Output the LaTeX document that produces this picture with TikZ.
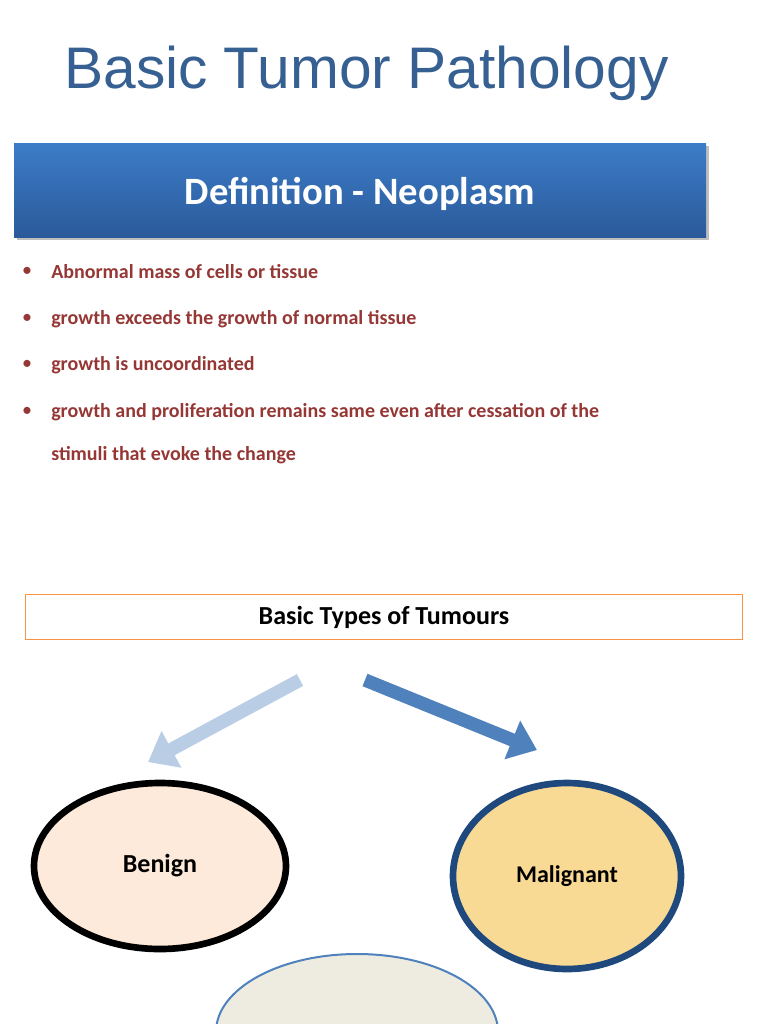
\documentclass[tikz,border=0pt]{standalone}
\usepackage{fontspec}
\setmainfont{Carlito}
\newfontfamily\titlefont{Liberation Sans}
\usetikzlibrary{arrows.meta,shapes.geometric}
\definecolor{titleblue}{HTML}{376092}
\definecolor{bulletred}{HTML}{953735}
\definecolor{hdrtop}{HTML}{3C7CC8}
\definecolor{hdrbot}{HTML}{2B5A9A}
\definecolor{lightarrow}{HTML}{B9CDE5}
\definecolor{darkarrow}{HTML}{4F81BD}
\definecolor{orangeb}{HTML}{F79646}
\definecolor{benignfill}{HTML}{FDEADA}
\definecolor{malfill}{HTML}{F9DA95}
\definecolor{malborder}{HTML}{1F497D}
\definecolor{thirdfill}{HTML}{EEECE1}
\tikzset{
 bul/.style={anchor=west,text=bulletred,font=\fontsize{15}{18}\selectfont\bfseries,inner sep=0},
 dot/.style={anchor=center,text=bulletred,font=\fontsize{15}{18}\selectfont,inner sep=0},
 fatarrow/.style={line width=10pt,-{Triangle[width=30pt,length=20pt]}}
}
\begin{document}
\begin{tikzpicture}[x=0.75pt,y=-0.75pt]
\useasboundingbox (0,0) rectangle (768,1024);
\clip (0,0) rectangle (768,1024);
\node[anchor=west,text=titleblue,font=\titlefont\fontsize{44}{50}\selectfont,inner sep=0] (title) at (64,73) {Basic Tumor Pathology};
\fill[black!25] (17,146) rectangle (709,240);
\shade[top color=hdrtop,bottom color=hdrbot] (14,143) rectangle (706,237);
\node[text=white,font=\fontsize{29}{34}\selectfont\bfseries] (hdr) at (360,194) {Definition - Neoplasm};
\foreach \y/\t/\n in {272/Abnormal mass of cells or tissue/b1,319/growth exceeds the growth of normal tissue/b2,365/growth is uncoordinated/b3,412/growth and proliferation remains same even after cessation of the/b4}{
 \node[dot] at (27,\y) {•};
 \node[bul] (\n) at (51,\y) {\t};}
\node[bul] (b5) at (51,455) {stimuli that evoke the change};
\node[draw=orangeb,line width=1pt,minimum width=717pt*0.75,minimum height=45pt*0.75,font=\fontsize{19.5}{22}\selectfont\bfseries] (types) at (384,617) {Basic Types of Tumours};
\node[ellipse,draw=black,line width=5pt,fill=benignfill,minimum width=252pt*0.75,minimum height=166pt*0.75,font=\fontsize{19.5}{22}\selectfont\bfseries] (benign) at (160,866) {Benign};
\node[ellipse,draw=malborder,line width=5pt,fill=malfill,minimum width=228pt*0.75,minimum height=186pt*0.75,font=\fontsize{18}{22}\selectfont\bfseries] (mal) at (567,876) {Malignant};
\node[ellipse,draw=darkarrow,line width=1.5pt,fill=thirdfill,minimum width=282pt*0.75,minimum height=156pt*0.75] (third) at (357,1032) {};
\coordinate (a1) at (300,680);
\coordinate (a1e) at (148,762);
\coordinate (a2) at (365,680);
\coordinate (a2e) at (537,750);
\draw[fatarrow,lightarrow] (a1) -- (a1e);
\draw[fatarrow,darkarrow] (a2) -- (a2e);
\end{tikzpicture}
\end{document}
